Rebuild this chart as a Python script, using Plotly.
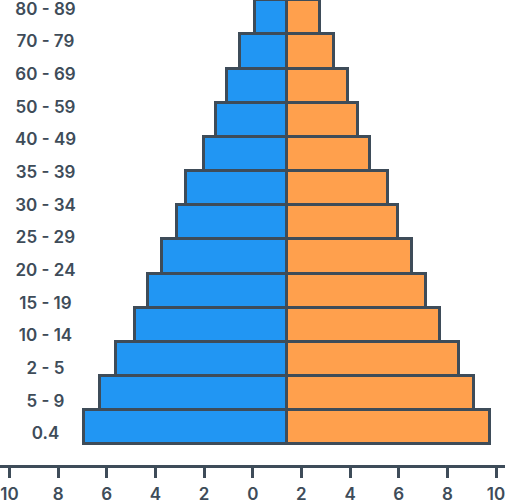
import plotly.graph_objects as go

# age group labels on the left (bottom to top)
age_labels = ["0.4", "5 - 9", "2 - 5", "10 - 14", "15 - 19", "20 - 24", "25 - 29",
              "30 - 34", "35 - 39", "40 - 49", "50 - 59", "60 - 69", "70 - 79", "80 - 89"]

# bar rows (bottom to top), the picture has 13 bars
bar_rows = list(range(13))
male = [8.35, 7.69, 7.05, 6.27, 5.72, 5.14, 4.54, 4.15, 3.41, 2.92, 2.49, 1.94, 1.34]
female = [8.35, 7.69, 7.05, 6.27, 5.72, 5.14, 4.54, 4.15, 3.41, 2.92, 2.49, 1.94, 1.34]

# x axis ticks
tick_vals = [-10, -8, -6, -4, -2, 0, 2, 4, 6, 8, 10]
tick_text = [str(abs(v)) for v in tick_vals]

DARK = "#3E4C59"
FONT = "Inter"

fig = go.Figure()

fig.add_trace(go.Bar(
    y=bar_rows, x=[-v for v in male], orientation="h",
    marker=dict(color="#2196F3", line=dict(color=DARK, width=3)),
    xaxis="x2", yaxis="y2", showlegend=False, hoverinfo="skip",
))
fig.add_trace(go.Bar(
    y=bar_rows, x=female, orientation="h",
    marker=dict(color="#FFA04D", line=dict(color=DARK, width=3)),
    xaxis="x2", yaxis="y2", showlegend=False, hoverinfo="skip",
))

# left labels, centred text
fig.add_trace(go.Scatter(
    x=[-8.52] * len(age_labels), y=age_labels, mode="text", text=age_labels,
    textfont=dict(family=FONT, size=17, color=DARK, weight=600),
    showlegend=False, hoverinfo="skip",
))

fig.update_layout(
    width=505, height=500,
    margin=dict(l=0, r=0, t=0, b=35),
    paper_bgcolor="white", plot_bgcolor="white",
    barmode="relative", bargap=0,
    xaxis=dict(
        range=[-10.39, 10.37], tickvals=tick_vals, ticktext=tick_text,
        showline=True, linecolor=DARK, linewidth=3,
        ticks="outside", ticklen=10, tickwidth=2.5, tickcolor=DARK,
        showgrid=False, zeroline=False, ticklabelstandoff=2,
        ticklabeloverflow="allow", automargin=False,
        tickfont=dict(family=FONT, size=17, color=DARK, weight=600),
    ),
    yaxis=dict(
        type="category", range=[-0.92, 13.32], automargin=False,
        showticklabels=False, showgrid=False, zeroline=False, showline=False,
    ),
    xaxis2=dict(range=[-11.81, 8.95], overlaying="x", visible=False),
    yaxis2=dict(range=[-1.10, 12.504], overlaying="y", visible=False),
)

# page body has a default 8px margin, drop it so the figure sits at 0,0
fig.write_html(
    "out.html",
    config={"displayModeBar": False},
    post_script="document.body.style.margin='0';document.body.style.overflow='hidden';",
)
